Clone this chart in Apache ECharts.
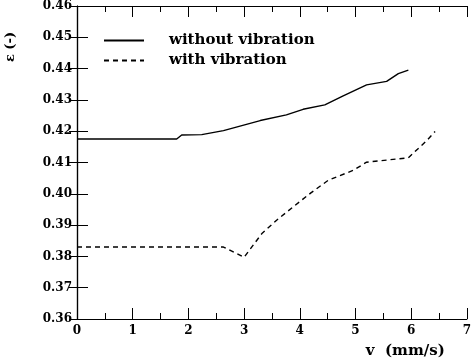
<!DOCTYPE html>
<html>
<head>
    <meta charset="utf-8">
    <title>ε vs v</title>
    <script src="https://cdn.jsdelivr.net/npm/echarts@6/dist/echarts.min.js"></script>
    <style>
        html, body { margin: 0; padding: 0; background: #fff; }
        #chart { width: 474px; height: 362px; }
    </style>
</head>
<body>
<div id="chart"></div>
<script>
    // without vibration (solid)
    var solidX = [0, 1.49, 1.79, 1.88, 2.24, 2.63, 3.29, 3.76, 4.06, 4.45, 4.78, 5.20, 5.56, 5.77, 5.95];
    var solidY = [0.4175, 0.4175, 0.4175, 0.4188, 0.4189, 0.4202, 0.4234, 0.4252, 0.4270, 0.4284, 0.4313, 0.4348, 0.4359, 0.4384, 0.4395];
    // with vibration (dashed)
    var dashX = [0, 2.63, 3.0, 3.32, 3.6, 3.88, 4.2, 4.51, 4.96, 5.20, 5.95, 6.28, 6.43];
    var dashY = [0.3830, 0.3830, 0.3797, 0.3873, 0.3918, 0.3958, 0.4003, 0.4043, 0.4075, 0.4101, 0.4115, 0.4170, 0.4199];
    var seriesNames = ['without vibration', 'with vibration'];

    function pairs(xs, ys) {
        var out = [];
        for (var i = 0; i < xs.length; i++) out.push([xs[i], ys[i]]);
        return out;
    }

    var font = 'DejaVu Serif';
    var chart = echarts.init(document.getElementById('chart'));
    var axisLine = { show: true, lineStyle: { color: '#000', width: 1.2 } };

    chart.setOption({
        animation: false,
        grid: { left: 77, right: 7, top: 5, bottom: 43 },
        legend: {
            orient: 'vertical',
            left: 98,
            top: 28,
            itemWidth: 40,
            itemHeight: 10,
            itemGap: 5,
            itemStyle: { opacity: 0 },
            textStyle: { fontFamily: font, fontSize: 15, fontWeight: 'bold', color: '#000', padding: [0, 0, 0, 20] },
            data: seriesNames
        },
        graphic: [{
            type: 'text', x: 11, y: 47, rotation: Math.PI / 2,
            style: { text: 'ε (-)', fontFamily: font, fontSize: 13, fontWeight: 'bold', fill: '#000',
                align: 'center', verticalAlign: 'middle' }
        }],
        xAxis: [{
            type: 'value', min: 0, max: 7, interval: 1,
            axisLine: axisLine,
            axisTick: { inside: true, length: 11, lineStyle: { color: '#000' } },
            minorTick: { show: true, splitNumber: 2, length: 6, lineStyle: { color: '#000' } },
            axisLabel: { fontFamily: font, fontSize: 12, fontWeight: 'bold', color: '#000', margin: 6 },
            splitLine: { show: false },
            name: 'v  (mm/s)', nameLocation: 'end', nameGap: 0,
            nameTextStyle: { fontFamily: font, fontSize: 15, fontWeight: 'bold', color: '#000',
                align: 'right', verticalAlign: 'top', padding: [25, 22, 0, 0] }
        }, {
            type: 'value', position: 'top', min: 0, max: 7, interval: 1,
            axisLine: axisLine,
            axisTick: { inside: true, length: 11, lineStyle: { color: '#000' } },
            minorTick: { show: true, splitNumber: 2, length: 6, lineStyle: { color: '#000' } },
            axisLabel: { show: false }, splitLine: { show: false }
        }],
        yAxis: [{
            type: 'value', min: 0.36, max: 0.46, interval: 0.01,
            axisLine: axisLine,
            axisTick: { inside: true, length: 11, lineStyle: { color: '#000' } },
            axisLabel: { fontFamily: font, fontSize: 12, fontWeight: 'bold', color: '#000', margin: 5,
                formatter: function (v) { return v.toFixed(2); } },
            splitLine: { show: false }
        }, {
            type: 'value', position: 'right', min: 0.36, max: 0.46, interval: 0.01,
            axisLine: axisLine,
            axisTick: { inside: true, length: 8, lineStyle: { color: '#000' } },
            axisLabel: { show: false }, splitLine: { show: false }
        }],
        series: [{
            name: seriesNames[0], type: 'line', symbol: 'none',
            lineStyle: { color: '#000', width: 1.4, type: 'solid' },
            itemStyle: { color: '#000' },
            data: pairs(solidX, solidY)
        }, {
            name: seriesNames[1], type: 'line', symbol: 'none',
            lineStyle: { color: '#000', width: 1.4, type: [5, 4] },
            itemStyle: { color: '#000' },
            data: pairs(dashX, dashY)
        }]
    });
</script>
</body>
</html>
